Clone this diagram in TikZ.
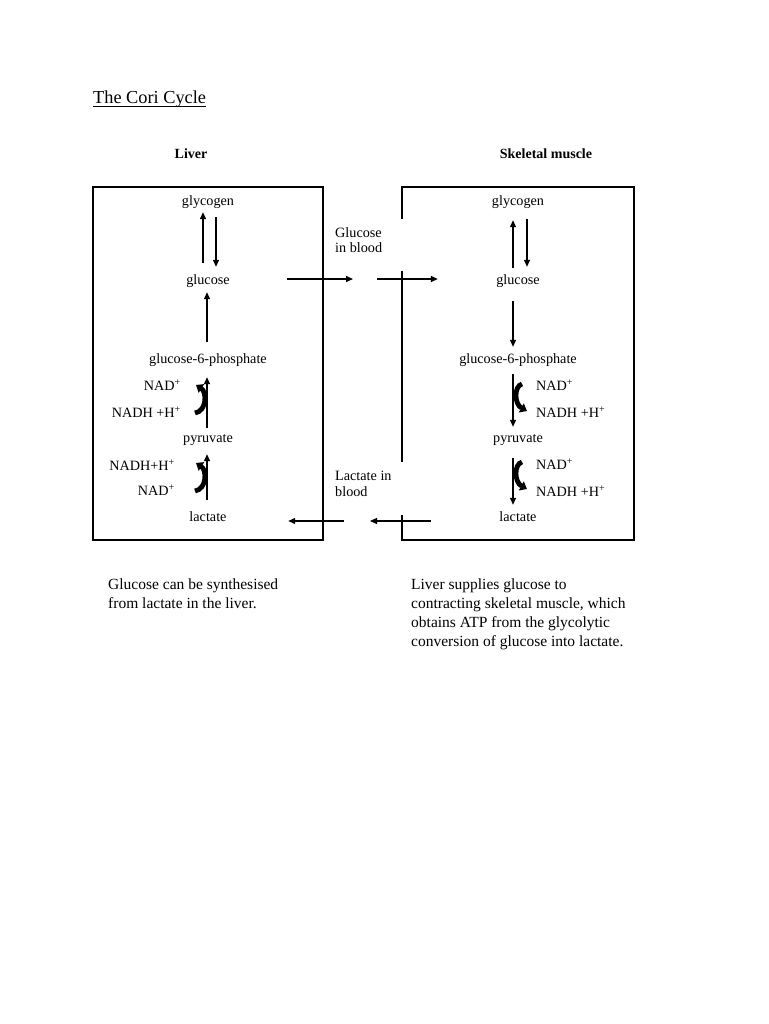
\documentclass[tikz,border=0pt]{standalone}
\usepackage{fontspec}
\setmainfont{Liberation Serif}
\usetikzlibrary{arrows.meta}
\begin{document}
\begin{tikzpicture}[x=1pt,y=-1pt,
  lab/.style={inner sep=0pt, font=\fontsize{14.2}{17}\selectfont, text height=12pt, text depth=1pt},
  blood/.style={inner sep=0pt, align=left, font=\fontsize{14.2}{15.5}\selectfont},
  arr/.style={line width=1.3pt, -{Triangle[length=7pt,width=6pt]}},
  boxline/.style={line width=1.3pt},
  cof/.style={line width=4.8pt, -{Triangle[length=6.5pt,width=10pt]}},
  body/.style={inner sep=0pt, align=left, font=\fontsize{15.5}{19}\selectfont},
  head/.style={inner sep=0pt, font=\fontsize{14}{17}\selectfont\bfseries},
]
\useasboundingbox[fill=white] (0,0) rectangle (768,1024);

% title
\node[inner sep=0pt, anchor=base west, font=\fontsize{18.3}{22}\selectfont] (title) at (93,104) {The Cori Cycle};
\draw[line width=1.1pt] ([yshift=-2.5pt]title.base west) -- ([yshift=-2.5pt]title.base east);

% headings
\node[head, anchor=base] (liver) at (191,159) {Liver};
\node[head, anchor=base] (muscle) at (546,159) {Skeletal muscle};

% boxes
\draw[boxline] (93,187) rectangle (323,540);
\draw[boxline] (402,219) -- (402,187) -- (634,187) -- (634,540) -- (402,540) -- (402,515);
\draw[boxline] (402,271) -- (402,462);

% liver metabolites
\node[lab] (glygL) at (208,200) {glycogen};
\node[lab] (glucL) at (208,279) {glucose};
\node[lab] (g6pL) at (208,358) {glucose-6-phosphate};
\node[lab] (pyrL) at (208,437) {pyruvate};
\node[lab] (lacL) at (208,516) {lactate};

\node[lab, anchor=east] (nad1L) at (181,385) {NAD\textsuperscript{+}};
\node[lab, anchor=east] (nadh1L) at (181,412) {NADH +H\textsuperscript{+}};
\node[lab, anchor=east] (nadh2L) at (175,465) {NADH+H\textsuperscript{+}};
\node[lab, anchor=east] (nad2L) at (175,490) {NAD\textsuperscript{+}};

% muscle metabolites
\node[lab] (glygR) at (518,200) {glycogen};
\node[lab] (glucR) at (518,279) {glucose};
\node[lab] (g6pR) at (518,358) {glucose-6-phosphate};
\node[lab] (pyrR) at (518,437) {pyruvate};
\node[lab] (lacR) at (518,516) {lactate};

\node[lab, anchor=west] (nad1R) at (536,385) {NAD\textsuperscript{+}};
\node[lab, anchor=west] (nadh1R) at (536,412) {NADH +H\textsuperscript{+}};
\node[lab, anchor=west] (nad2R) at (536,464) {NAD\textsuperscript{+}};
\node[lab, anchor=west] (nadh2R) at (536,491) {NADH +H\textsuperscript{+}};

% blood labels
\node[blood, anchor=north west] (gblood) at (335,227) {Glucose\\in blood};
\node[blood, anchor=north west] (lblood) at (335,471) {Lactate in\\blood};

% liver arrows
\draw[arr, shorten <=9.5pt, shorten >=5.5pt] ([xshift=-5pt]glucL.north) -- ([xshift=-5pt]glygL.south);
\draw[arr, shorten <=10.5pt, shorten >=5.5pt] ([xshift=8pt]glygL.south) -- ([xshift=8pt]glucL.north);
\draw[arr, shorten <=9.5pt, shorten >=6.5pt] ([xshift=-1pt]g6pL.north) -- ([xshift=-1pt]glucL.south);
\draw[arr, shorten <=2.5pt, shorten >=12.5pt] ([xshift=-1pt]pyrL.north) -- ([xshift=-1pt]g6pL.south);
\draw[arr, shorten <=9.5pt, shorten >=10.5pt] ([xshift=-1pt]lacL.north) -- ([xshift=-1pt]pyrL.south);

% muscle arrows
\draw[arr, shorten <=4.5pt, shorten >=13.5pt] ([xshift=-5pt]glucR.north) -- ([xshift=-5pt]glygR.south);
\draw[arr, shorten <=12.5pt, shorten >=5.5pt] ([xshift=9pt]glygR.south) -- ([xshift=9pt]glucR.north);
\draw[arr, shorten <=15.5pt, shorten >=4.5pt] ([xshift=-5pt]glucR.south) -- ([xshift=-5pt]g6pR.north);
\draw[arr, shorten <=9.5pt, shorten >=3.5pt] ([xshift=-5pt]g6pR.south) -- ([xshift=-5pt]pyrR.north);
\draw[arr, shorten <=14.5pt, shorten >=4.5pt] ([xshift=-5pt]pyrR.south) -- ([xshift=-5pt]lacR.north);

% blood transport arrows
\coordinate (gb1) at (353,279);
\coordinate (gb2) at (377,279);
\coordinate (lb1) at (370,521);
\coordinate (lb2) at (344,521);
\draw[arr, shorten <=57.3pt] (glucL.east) -- (gb1);
\draw[arr, shorten >=58.3pt] (gb2) -- (glucR.west);
\draw[arr, shorten <=68.5pt] ([yshift=-5pt]lacR.west) -- (lb1);
\draw[arr, shorten >=61.5pt] (lb2) -- ([yshift=-5pt]lacL.east);

% cofactor curved arrows
\coordinate (c1s) at (195,413);
\coordinate (c1e) at (196,385);
\coordinate (c2s) at (195,491);
\coordinate (c2e) at (196,463);
\draw[cof] (c1s) .. controls (207,411) and (207,392) .. (c1e);
\draw[cof] (c2s) .. controls (207,489) and (207,470) .. (c2e);
\coordinate (c3s) at (522,384);
\coordinate (c3e) at (527,411);
\coordinate (c4s) at (522,462);
\coordinate (c4e) at (527,489);
\draw[cof] (c3s) .. controls (514,386) and (514,404) .. (c3e);
\draw[cof] (c4s) .. controls (514,464) and (514,482) .. (c4e);

% notes
\node[body, anchor=north west] (noteL) at (108,579) {Glucose can be synthesised\\from lactate in the liver.};
\node[body, anchor=north west] (noteR) at (411,579) {Liver supplies glucose to\\contracting skeletal muscle, which\\obtains ATP from the glycolytic\\conversion of glucose into lactate.};
\end{tikzpicture}
\end{document}
